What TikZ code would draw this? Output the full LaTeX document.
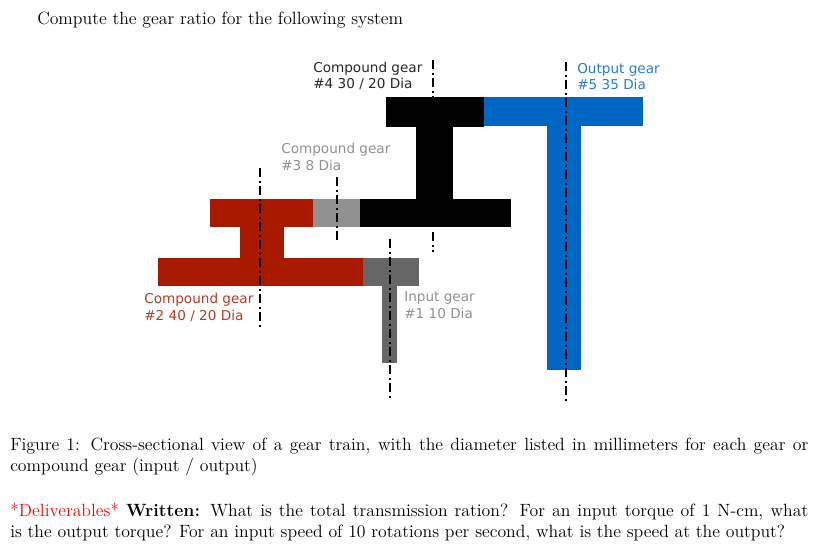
\documentclass[tikz,border=0pt]{standalone}
\usepackage{fontspec}
\newfontfamily\labelfont{DejaVu Sans}
\definecolor{gearred}{RGB}{168,25,0}
\definecolor{gearblue}{RGB}{0,102,196}
\definecolor{geargray}{RGB}{145,145,145}
\definecolor{geardark}{RGB}{102,102,102}
\tikzset{
	gearlabel/.style={anchor=base west, inner sep=0pt, align=left, font=\labelfont\fontsize{10.2}{12.6}\selectfont},
	bodytext/.style={anchor=base west, inner sep=0pt, text width=598.5pt, align=justify, font=\fontsize{13.3}{15.75}\selectfont},
	axisline/.style={line width=1.5pt, black, dash pattern=on 7pt off 2.5pt on 1.5pt off 2.5pt},
}

\begin{document}
\begin{tikzpicture}[x=0.75pt, y=-0.75pt]
		\useasboundingbox (0, 0) rectangle (823, 556);
		
		\node[anchor=base west, inner sep=0pt, font=\fontsize{13.3}{15.75}\selectfont] (title) at (37, 25) {Compute the gear ratio for the following system};
		
		% gear 5, output
		\fill[gearblue] (484, 97) rectangle (643, 126);
		\fill[gearblue] (547, 126) rectangle (581, 370);
		
		% gear 4
		\fill[black] (386, 97) rectangle (484, 127);
		\fill[black] (416, 127) rectangle (453, 199);
		\fill[black] (360, 199) rectangle (511, 227);
		
		% gear 3
		\fill[geargray] (313, 199) rectangle (360, 227);
		
		% gear 2
		\fill[gearred] (210, 199) rectangle (313, 227);
		\fill[gearred] (240, 227) rectangle (284, 258);
		\fill[gearred] (158, 258) rectangle (363, 286);
		
		% gear 1, input
		\fill[geardark] (363, 258) rectangle (419, 286);
		\fill[geardark] (382, 286) rectangle (397, 363);
		
		% shafts
		\draw[axisline] (260, 168) -- (260, 327);
		\draw[axisline] (337, 177) -- (337, 243);
		\draw[axisline] (390, 239) -- (390, 398);
		\draw[axisline] (433, 60) -- (433, 97);
		\draw[axisline] (433, 232) -- (433, 252);
		\draw[axisline] (566, 62) -- (566, 401);
		
		\node[gearlabel, text=black!85] (labelfour) at (313, 89) {Compound gear\\\#4 30 / 20 Dia};
		\node[gearlabel, text=geargray] (labelthree) at (281, 170) {Compound gear\\\#3 8 Dia};
		\node[gearlabel, text=gearred!85] (labeltwo) at (144, 320) {Compound gear\\\#2 40 / 20 Dia};
		\node[gearlabel, text=geargray] (labelone) at (404, 318) {Input gear\\\#1 10 Dia};
		\node[gearlabel, text=gearblue!85] (labelfive) at (577, 90) {Output gear\\\#5 35 Dia};
		
		\node[bodytext] (caption) at (10, 450) {Figure 1: Cross-sectional view of a gear train, with the diameter listed in millimeters for each gear or compound gear (input / output)};
		\node[bodytext] (question) at (10, 516) {\textcolor{red}{*Deliverables*} \textbf{Written:} What is the total transmission ration? For an input torque of 1 N-cm, what\linebreak is the output torque? For an input speed of 10 rotations per second, what is the speed at the output?};
\end{tikzpicture}
\end{document}
